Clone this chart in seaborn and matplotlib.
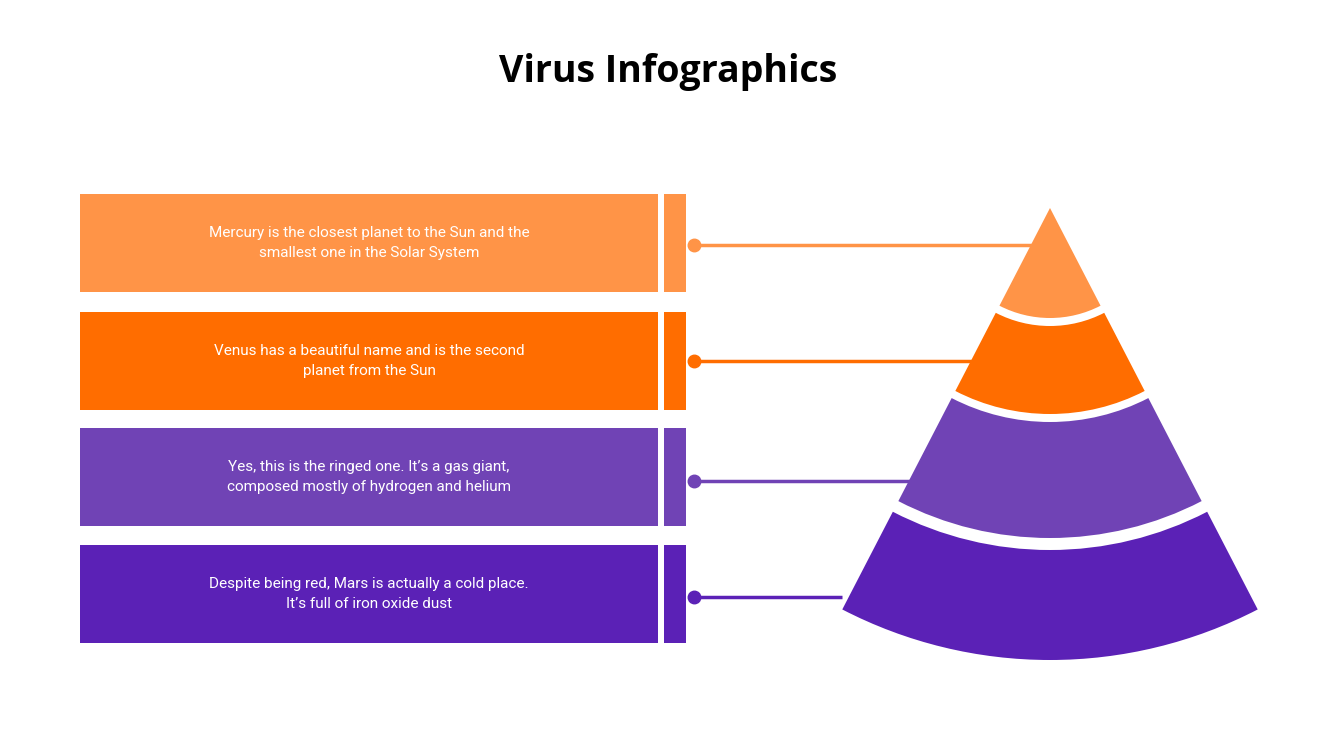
import numpy as np
import matplotlib.pyplot as plt
from matplotlib.patches import Rectangle, Wedge
import seaborn as sns

# chart content
title = "Virus Infographics"
labels = [
    "Mercury is the closest planet to the Sun and the\nsmallest one in the Solar System",
    "Venus has a beautiful name and is the second\nplanet from the Sun",
    "Yes, this is the ringed one. It\u2019s a gas giant,\ncomposed mostly of hydrogen and helium",
    "Despite being red, Mars is actually a cold place.\nIt\u2019s full of iron oxide dust",
]
colors = ["#FF9447", "#FF6D00", "#7043B5", "#5B21B6"]
# pyramid bands as radius ranges (pixels from apex)
band_inner = [0, 118, 214, 342]
band_outer = [110, 206, 330, 452]

sns.set_theme(style="white")
plt.rcParams['font.family'] = ['Roboto', 'DejaVu Sans']

fig = plt.figure(figsize=(13.36, 7.52), dpi=100)
ax = fig.add_axes([0, 0, 1, 1])
ax.set_xlim(0, 1336)
ax.set_ylim(752, 0)
ax.axis('off')

ax.text(668, 72, title, ha='center', va='center', fontsize=27,
        fontweight='bold', color='black', family=['Open Sans', 'DejaVu Sans'],
        fontstretch='condensed')

row_top = [194, 312, 428, 545]
row_h = 98
dot_y = [245, 361, 481, 597]
line_end = [1032, 975, 910, 842]

for i, (txt, col) in enumerate(zip(labels, colors)):
    y0 = row_top[i]
    ax.add_patch(Rectangle((80, y0), 578, row_h, color=col, lw=0))
    ax.add_patch(Rectangle((664, y0), 22, row_h, color=col, lw=0))
    ax.text(369, y0 + row_h / 2, txt, ha='center', va='center', color='white',
            fontsize=11, linespacing=1.55)
    ax.plot([694, line_end[i]], [dot_y[i], dot_y[i]], color=col, lw=2.5,
            solid_capstyle='butt', zorder=2)
    ax.plot(694, dot_y[i], 'o', color=col, ms=9, zorder=3)

# pyramid as a circular sector centered at the apex
apex = (1050, 208)
half = np.degrees(np.arctan2(208, 402))
for rin, rout, col in zip(band_inner, band_outer, colors):
    ax.add_patch(Wedge(apex, rout, 90 - half, 90 + half, width=rout - rin,
                       color=col, lw=0, zorder=4))

fig.savefig('out.png', dpi=100, facecolor='white')
